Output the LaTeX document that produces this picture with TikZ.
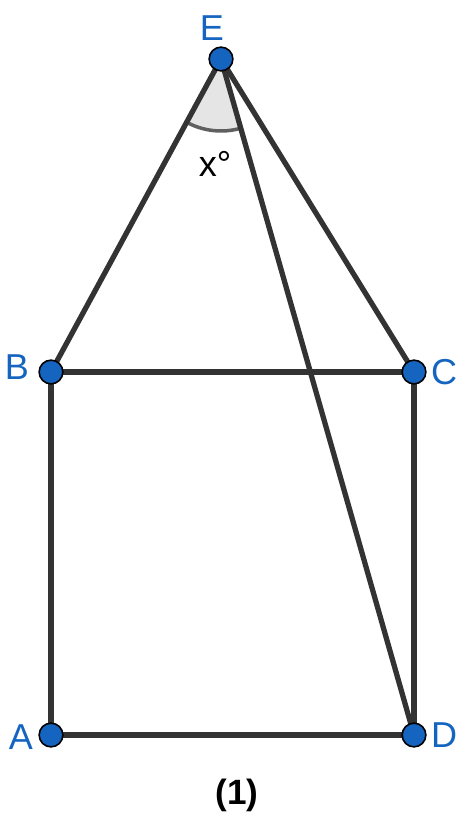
\documentclass[tikz,border=0pt]{standalone}
\usepackage{fontspec}
\setmainfont{Liberation Sans}
\definecolor{ptblue}{HTML}{1565C0}
\definecolor{lineg}{HTML}{333333}
\definecolor{labblue}{HTML}{1565C0}
\begin{document}
\begin{tikzpicture}[x=0.02cm,y=-0.02cm,
  seg/.style={draw=lineg,line width=3pt},
  pt/.style={circle,fill=ptblue,draw=black,line width=0.9pt,minimum size=13.5pt,inner sep=0pt},
  lab/.style={text=labblue,font=\fontsize{20.5}{20.5}\selectfont,inner sep=0pt}]
\useasboundingbox (0,0) rectangle (474,828);
\coordinate (E) at (221,59);
\coordinate (B) at (51,372);
\coordinate (C) at (414,372);
\coordinate (A) at (51,735);
\coordinate (D) at (414,735);
% angle
\fill[gray!20] (E) -- ++(241.5:1.44cm) arc[start angle=241.5,end angle=285.9,radius=1.44cm] -- cycle;
\draw[draw=gray!75!black,line width=2pt] (E) ++(241.5:1.44cm) arc[start angle=241.5,end angle=285.9,radius=1.44cm];
\draw[seg] (A) -- (B) -- (C) -- (D) -- cycle;
\draw[seg] (B) -- (E) -- (C);
\draw[seg] (E) -- (D);
\node[pt] (pE) at (E) {};
\node[pt] (pB) at (B) {};
\node[pt] (pC) at (C) {};
\node[pt] (pA) at (A) {};
\node[pt] (pD) at (D) {};
\node[lab] (lE) at (212,28) {E};
\node[lab] (lB) at (17,367) {B};
\node[lab] (lC) at (444,372) {C};
\node[lab] (lA) at (21,737) {A};
\node[lab] (lD) at (444,735) {D};
\node[font=\fontsize{20.5}{20.5}\selectfont,inner sep=0pt] (lx) at (215,164) {x°};
\node[font=\bfseries\fontsize{20}{20}\selectfont,inner sep=0pt] (l1) at (237,795) {(1)};
\end{tikzpicture}
\end{document}
